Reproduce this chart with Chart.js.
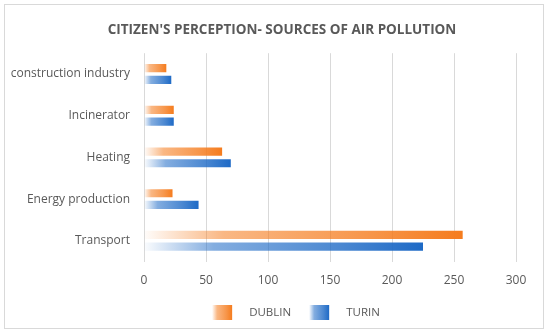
<!DOCTYPE html>
<html><head><meta charset="utf-8">
<script src="https://cdn.jsdelivr.net/npm/chart.js@4"></script>
<style>html,body{margin:0;padding:0;background:#fff}#wrap{width:550px;height:334px}</style>
</head><body><div id="wrap"><canvas id="c" width="550" height="334"></canvas></div>
<script>
const categories = ["construction industry", "Incinerator", "Heating", "Energy production", "Transport"];
const dublin = [18, 24, 63, 23, 257];
const turin = [22, 24, 70, 44, 225];
const xTicks = [0, 50, 100, 150, 200, 250, 300];
const seriesNames = ["DUBLIN", "TURIN"];
const seriesRGB = [[245,124,30],[30,106,198]];

function rgba(c,a){return `rgba(${c[0]},${c[1]},${c[2]},${a})`;}
function grad(ctx,x0,x1,c){
  const g = ctx.createLinearGradient(x0,0,x1,0);
  g.addColorStop(0, rgba(c,0.02));
  g.addColorStop(0.25, rgba(c,0.55));
  g.addColorStop(0.7, rgba(c,0.8));
  g.addColorStop(1, rgba(c,1));
  return g;
}
function barBg(ci){
  return function(context){
    const chart = context.chart;
    if(!chart.chartArea || context.type !== 'data') return rgba(seriesRGB[ci],1);
    const xs = chart.scales.x;
    const x0 = xs.getPixelForValue(0);
    const x1 = xs.getPixelForValue(context.raw);
    return grad(chart.ctx, x0, Math.max(x1, x0+1), seriesRGB[ci]);
  };
}
const BOX_OFF = 8;
const BOX_W = 20;
const frame = {
  id:'frame',
  afterLayout(chart){
    const t = chart.titleBlock;
    if(t){ t.left += 24; t.right += 24; }
    const l = chart.legend;
    if(l){ l.left += 34; l.right += 34; }
  },
  beforeDraw(chart){
    const ctx = chart.ctx;
    ctx.save();
    ctx.fillStyle='#fff';
    ctx.fillRect(0,0,chart.width,chart.height);
    ctx.strokeStyle='#d9d9d9';
    ctx.lineWidth=1;
    ctx.strokeRect(4.5,4.5,539,324);
    ctx.restore();
  },
  afterDraw(chart){
    const lg = chart.legend;
    if(!lg || !lg.legendHitBoxes) return;
    const ctx = chart.ctx;
    lg.legendHitBoxes.forEach((hb,i)=>{
      const x = hb.left + BOX_OFF;
      ctx.save();
      ctx.fillStyle = grad(ctx, x, x+BOX_W, seriesRGB[i]);
      ctx.fillRect(x, hb.top + (hb.height-15)/2, BOX_W, 15);
      ctx.restore();
    });
  }
};
new Chart(document.getElementById('c'), {
  type:'bar',
  data:{
    labels: categories,
    datasets:[
      {label: seriesNames[0], data: dublin, backgroundColor: barBg(0), borderWidth:0},
      {label: seriesNames[1], data: turin, backgroundColor: barBg(1), borderWidth:0}
    ]
  },
  options:{
    indexAxis:'y',
    responsive:false,
    animation:false,
    devicePixelRatio:1,
    categoryPercentage:0.56,
    barPercentage:0.7,
    layout:{padding:{left:0,right:34,top:0,bottom:4}},
    plugins:{
      tooltip:{enabled:false},
      title:{
        display:true,
        text:"CITIZEN'S PERCEPTION- SOURCES OF AIR POLLUTION",
        color:'#595959',
        font:{family:'Open Sans',size:13.5,weight:'bold'},
        padding:{top:22,bottom:15}
      },
      legend:{
        position:'bottom',
        labels:{
          color:'#595959',
          font:{family:'Open Sans',size:11.5},
          boxWidth:BOX_OFF+31.25,
          boxHeight:15,
          padding:10,
          generateLabels(chart){
            return chart.data.datasets.map((d,i)=>({
              text:d.label, fillStyle:'rgba(0,0,0,0)', strokeStyle:'rgba(0,0,0,0)', lineWidth:0, datasetIndex:i, fontColor:'#595959'
            }));
          }
        }
      }
    },
    scales:{
      x:{
        min:0,max:300,
        afterBuildTicks(s){ s.ticks = xTicks.map(v=>({value:v})); },
        afterFit(s){ s.height -= 5; },
        grid:{color:'#d9d9d9',drawTicks:false},
        border:{display:false},
        ticks:{color:'#595959',font:{family:'Open Sans',size:12},padding:12}
      },
      y:{
        afterFit(s){ s.width = 144; },
        grid:{display:false,drawTicks:false},
        border:{display:false},
        ticks:{color:'#595959',font:{family:'Open Sans',size:12},padding:14}
      }
    }
  },
  plugins:[frame]
});
</script></body></html>
